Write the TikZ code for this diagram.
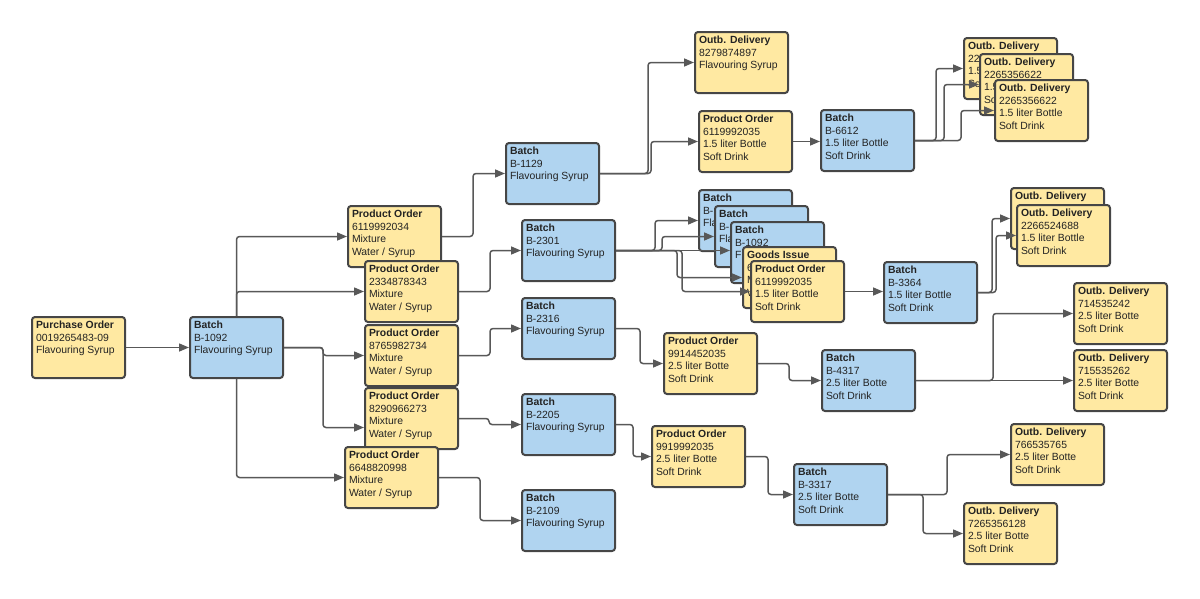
\documentclass[tikz,border=0pt]{standalone}
\usepackage{fontspec}
\setmainfont{Liberation Sans}
\usetikzlibrary{arrows.meta}
\definecolor{cardyellow}{RGB}{255,233,162}
\definecolor{cardblue}{RGB}{176,212,240}
\definecolor{cardedge}{RGB}{70,70,70}
\definecolor{linkgray}{RGB}{88,88,88}
\definecolor{inkgray}{RGB}{35,35,35}
\tikzset{
  card/.style={draw=cardedge, line width=2pt, rounded corners=3pt,
    inner xsep=4pt, inner ysep=0pt, anchor=north west, text=inkgray},
  order/.style={card, fill=cardyellow},
  batch/.style={card, fill=cardblue},
  link/.style={draw=linkgray, line width=1.5pt, rounded corners=3pt,
    -{Triangle[length=10pt,width=8pt]}},
}
\newcommand{\cardtext}[2]{\parbox[c][61pt][t]{85pt}{\raggedright
  \fontsize{10.4}{12.8}\selectfont\rule{0pt}{11.2pt}\textbf{#1}\\#2}}

\begin{document}
\begin{tikzpicture}[x=1pt, y=-1pt]
\useasboundingbox (0,0) rectangle (1200,598);

\node[order] (po) at (31,316) {\cardtext{Purchase Order}{0019265483-09\\Flavouring Syrup}};
\node[batch] (b1092) at (189,316) {\cardtext{Batch}{B-1092\\Flavouring Syrup}};

% mixture orders
\node[order] (po2034) at (347,205) {\cardtext{Product Order}{6119992034\\Mixture\\Water / Syrup}};
\node[order] (po8343) at (364,260) {\cardtext{Product Order}{2334878343\\Mixture\\Water / Syrup}};
\node[order] (po2734) at (364,324) {\cardtext{Product Order}{8765982734\\Mixture\\Water / Syrup}};
\node[order] (po6273) at (364,387) {\cardtext{Product Order}{8290966273\\Mixture\\Water / Syrup}};
\node[order] (po0998) at (344,446) {\cardtext{Product Order}{6648820998\\Mixture\\Water / Syrup}};

\node[batch] (b1129) at (505,142) {\cardtext{Batch}{B-1129\\Flavouring Syrup}};
\node[batch] (b2301) at (521,219) {\cardtext{Batch}{B-2301\\Flavouring Syrup}};
\node[batch] (b2316) at (521,297) {\cardtext{Batch}{B-2316\\Flavouring Syrup}};
\node[batch] (b2205) at (521,393) {\cardtext{Batch}{B-2205\\Flavouring Syrup}};
\node[batch] (b2109) at (521,489) {\cardtext{Batch}{B-2109\\Flavouring Syrup}};

% 1.5 liter branch
\node[order] (od4897) at (694,31) {\cardtext{Outb. Delivery}{8279874897\\Flavouring Syrup}};
\node[order] (po2035) at (698,110) {\cardtext{Product Order}{6119992035\\1.5 liter Bottle\\Soft Drink}};
\node[batch] (b6612) at (820,109) {\cardtext{Batch}{B-6612\\1.5 liter Bottle\\Soft Drink}};
\node[order] (od6622a) at (963,37) {\cardtext{Outb. Delivery}{22\\1.5\\So}};
\node[order] (od6622b) at (979,53) {\cardtext{Outb. Delivery}{2265356622\\1.5\\So}};
\node[order] (od6622c) at (994,79) {\cardtext{Outb. Delivery}{2265356622\\1.5 liter Bottle\\Soft Drink}};

\node[batch] (stacka) at (698,189) {\cardtext{Batch}{B-\\Fla}};
\node[batch] (stackb) at (714,205) {\cardtext{Batch}{B-\\Fla}};
\node[batch] (stackc) at (730,221) {\cardtext{Batch}{B-1092\\F}};
\node[order] (gissue) at (742,246) {\cardtext{Goods Issue}{6\\M\\W}};
\node[order] (stackpo) at (750,260) {\cardtext{Product Order}{6119992035\\1.5 liter Bottle\\Soft Drink}};
\node[batch] (b3364) at (883,261) {\cardtext{Batch}{B-3364\\1.5 liter Bottle\\Soft Drink}};
\node[order] (od4688a) at (1010,187) {\cardtext{Outb. Delivery}{\mbox{}}};
\node[order] (od4688b) at (1016,204) {\cardtext{Outb. Delivery}{2266524688\\1.5 liter Bottle\\Soft Drink}};

% 2.5 liter branches
\node[order] (po9914) at (663,332) {\cardtext{Product Order}{9914452035\\2.5 liter Botte\\Soft Drink}};
\node[batch] (b4317) at (821,349) {\cardtext{Batch}{B-4317\\2.5 liter Botte\\Soft Drink}};
\node[order] (od5242) at (1073,282) {\cardtext{Outb. Delivery}{714535242\\2.5 liter Botte\\Soft Drink}};
\node[order] (od5262) at (1073,349) {\cardtext{Outb. Delivery}{715535262\\2.5 liter Botte\\Soft Drink}};
\node[order] (po9919) at (651,425) {\cardtext{Product Order}{9919992035\\2.5 liter Botte\\Soft Drink}};
\node[batch] (b3317) at (793,463) {\cardtext{Batch}{B-3317\\2.5 liter Botte\\Soft Drink}};
\node[order] (od5765) at (1010,423) {\cardtext{Outb. Delivery}{766535765\\2.5 liter Botte\\Soft Drink}};
\node[order] (od6128) at (963,502) {\cardtext{Outb. Delivery}{7265356128\\2.5 liter Botte\\Soft Drink}};

% connectors
\draw[link] (po.east) -- (b1092.west);
\draw[link] (b1092.north) |- (po2034.west);
\draw[link] (b1092.north) |- (po8343.west);
\draw[link] (b1092.east) -- ++(39,0) |- (po2734.west);
\draw[link] (b1092.east) -- ++(39,0) |- ([yshift=-9pt]po6273.west);
\draw[link] (b1092.south) |- (po0998.west);

\draw[link] (po2034.east) -- ++(31,0) |- (b1129.west);
\draw[link] (po8343.east) -- ++(31,0) |- (b2301.west);
\draw[link] (po2734.east) -- ++(31,0) |- (b2316.west);
\draw[link] (po6273.east) -- ++(30,0) |- (b2205.west);
\draw[link] (po0998.east) -- ++(41,0) |- (b2109.west);

\draw[link] (b1129.east) -- ++(48,0) |- (od4897.west);
\draw[link] (b1129.east) -- ++(51,0) |- (po2035.west);
\draw[link] (po2035.east) -- (po2035.east -| b6612.west);
\draw[link] (b6612.east) -- ++(21,0) |- (od6622a.west);
\draw[link] (b6612.east) -- ++(29,0) |- (od6622b.west);
\draw[link] (b6612.east) -- ++(46,0) |- (od6622c.west);

\draw[link] (b2301.east) -- ++(39,0) |- (stacka.west);
\draw[link] (b2301.east) -- ++(46,0) |- (stackb.west);
\draw[link] (b2301.east) -- (b2301.east -| stackc.west);
\draw[link] (b2301.east) -- ++(61,0) |- (gissue.west);
\draw[link] (b2301.east) -- ++(66,0) |- (stackpo.west);
\draw[link] (stackpo.east) -- (stackpo.east -| b3364.west);
\draw[link] (b3364.east) -- ++(14,0) |- (od4688a.west);
\draw[link] (b3364.east) -- ++(18,0) |- (od4688b.west);

\draw[link] (b2316.east) -- ++(24,0) |- (po9914.west);
\draw[link] (po9914.east) -- ++(31,0) |- (b4317.west);
\draw[link] (b4317.east) -- ++(77,0) |- (od5242.west);
\draw[link] (b4317.east) -- (od5262.west);

\draw[link] (b2205.east) -- ++(17,0) |- (po9919.west);
\draw[link] (po9919.east) -- ++(22,0) |- (b3317.west);
\draw[link] (b3317.east) -- ++(59,0) |- (od5765.west);
\draw[link] (b3317.east) -- ++(35,0) |- (od6128.west);

\end{tikzpicture}
\end{document}
